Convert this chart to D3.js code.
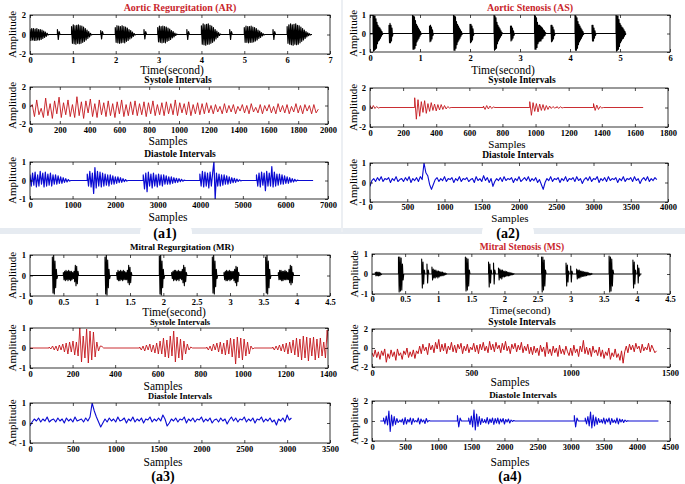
<!DOCTYPE html>
<html>
<head>
<meta charset="utf-8">
<script src="https://cdn.jsdelivr.net/npm/d3@7"></script>
<style>
body{margin:0;background:#fff;}
svg text{font-family:"Liberation Serif","Times New Roman",serif;}
.tk text{font-weight:bold;font-size:8.5px;fill:#000;}
.tk line{stroke:#000;stroke-width:0.7;}
</style>
</head>
<body>
<script>
// ---- (a1) Aortic Regurgitation ----
// heart sound, time in seconds, bursts sampled every 0.02 s
var arStarts = [0.0, 0.64, 0.97, 1.65, 1.99, 2.66, 2.98, 3.66, 4.0, 4.66, 5.0, 5.67, 6.0];
var arBursts = [
  [0.5,-0.6,0.6,-0.55,0.6,-0.6,0.55,-0.6,0.6,-0.55,0.5,-0.55,0.5,-0.5,0.45,-0.4,0.35,-0.3,0.25,-0.2,0.12,-0.05],
  [0.5,-0.5,0.3],
  [0.8,-0.9,1.0,-0.95,0.9,-1.0,0.95,-0.9,1.0,-0.95,0.9,-0.9,0.85,-0.8,0.75,-0.7,0.6,-0.55,0.45,-0.4,0.3,-0.25,0.12,-0.05],
  [0.4,-0.45,0.3],
  [0.7,-0.8,0.9,-0.85,0.85,-0.9,0.8,-0.85,0.9,-0.8,0.8,-0.85,0.75,-0.7,0.65,-0.6,0.5,-0.45,0.4,-0.35,0.25,-0.2,0.1,-0.05],
  [0.5,-0.45,0.3],
  [0.7,-0.75,0.85,-0.8,0.8,-0.85,0.85,-0.8,0.8,-0.85,0.75,-0.7,0.65,-0.6,0.55,-0.5,0.4,-0.35,0.3,-0.25,0.15,-0.1,0.05],
  [0.5,-0.5,0.3],
  [0.9,-1.0,1.1,-1.05,1.0,-1.1,1.05,-1.0,1.1,-1.0,0.95,-0.9,0.85,-0.8,0.7,-0.65,0.5,-0.45,0.35,-0.3,0.2,-0.1,0.05],
  [0.5,-0.5,0.3],
  [0.7,-0.8,0.85,-0.8,0.8,-0.85,0.8,-0.8,0.85,-0.8,0.75,-0.75,0.7,-0.65,0.6,-0.55,0.45,-0.4,0.35,-0.3,0.2,-0.15,0.08,-0.05],
  [0.5,-0.5,0.3],
  [0.8,-0.9,1.0,-1.0,1.1,-1.05,1.0,-1.1,1.05,-1.0,1.1,-1.05,0.95,-1.0,0.9,-0.85,0.75,-0.7,0.6,-0.55,0.45,-0.4,0.3,-0.25,0.18,-0.12,0.08,-0.05]
];
var arBase = [0, 6.58];
// systole intervals, one value every 15 samples
var arSys = [
  -0.2,0.1,-1.2,0.6,-1.0,-0.3,-1.3,0.8,-1.1,0.2,-1.4,0.5,-0.9,0.9,-1.3,0.3,-1.0,0.6,-1.2,0.1,-1.3,0.95,-1.1,0.4,-1.4,0.5,-0.8,0.7,-1.2,0.2,-1.3,0.6,-1.0,0.3,-1.2,0.5,-1.1,0.2,-1.3,0.4,-0.9,0.6,-1.2,0.1,-1.1,0.4,-1.0,
  0.5,-1.1,0.2,-1.0,0.4,-1.2,0.3,-0.9,0.5,-1.1,0.1,-1.0,0.3,-1.1,0.4,-0.9,0.2,-1.0,0.6,-1.1,0.3,-0.8,0.2,-1.0,0.4,-1.1,0.1,-0.9,0.3,-1.0,0.2,-0.9,0.3,
  -0.8,0.0,-0.9,0.1,-0.7,-0.1,-0.9,0.2,-0.8,0.0,-0.7,0.1,-0.9,-0.1,-0.6,0.1,-0.8,0.0,-0.9,0.2,-0.7,-0.2,-0.8,0.1,-0.9,0.0,-0.6,0.1,-0.8,-0.1,-0.9,0.2,-0.7,0.0,-0.8,0.1,-0.9,-0.1,-0.7,0.2,-0.8,0.0,-0.9,0.1,-0.6,0.0,-0.9,0.1,-0.8,-0.4
];
// diastole intervals, bursts sampled every 30 samples
var arDiaStarts = [0, 1345, 2660, 3990, 5320];
var arDiaBursts = [
  [0.3,-0.3,0.4,-0.25,0.45,-0.35,0.3,-0.3,0.5,-0.2,0.4,-0.35,0.45,-0.3,0.35,-0.25,0.4,-0.3,0.3,-0.2,0.3,-0.2,0.25,-0.15,0.2,-0.15,0.15,-0.1,0.1,-0.08,0.05,-0.03],
  [0.35,-0.3,0.5,-0.35,0.4,-0.7,0.7,-0.4,0.5,-0.3,0.45,-0.35,0.4,-0.3,0.35,-0.25,0.3,-0.3,0.3,-0.2,0.25,-0.2,0.2,-0.15,0.2,-0.12,0.15,-0.1,0.1,-0.06,0.05,-0.03],
  [0.3,-0.45,0.4,-0.6,0.45,-0.3,0.35,-0.4,0.4,-0.3,0.3,-0.35,0.35,-0.25,0.3,-0.3,0.3,-0.2,0.25,-0.2,0.2,-0.2,0.2,-0.15,0.15,-0.12,0.12,-0.1,0.1,-0.06,0.06,-0.04,0.02],
  [0.35,-0.3,0.5,-0.35,0.45,-0.3,0.4,-0.4,0.45,-0.3,0.4,1.0,-1.0,0.4,-0.3,0.35,-0.3,0.3,-0.25,0.3,-0.2,0.25,-0.2,0.2,-0.15,0.15,-0.12,0.12,-0.1,0.08,-0.05,0.04,-0.02],
  [0.3,-0.3,0.4,-0.35,0.45,-0.25,0.4,-0.55,0.5,-0.3,0.4,-0.3,0.75,-0.35,0.45,-0.3,0.35,-0.25,0.35,-0.2,0.3,-0.2,0.25,-0.15,0.2,-0.15,0.15,-0.1,0.1,-0.08,0.06,-0.04,0.02]
];
var arDiaBase = [0, 6650];

// ---- (a2) Aortic Stenosis ----
// bursts sampled every 0.01 s
var asStarts = [0.06, 0.38, 0.85, 1.19, 1.67, 2.0, 2.48, 2.81, 3.29, 3.62, 4.10, 4.44, 4.92];
var asBursts = [
  [1.0,-0.95,0.95,-0.9,0.95,-0.85,0.8,-0.8,0.6,-0.55,0.45,-0.4,0.35,-0.35,0.3,-0.25,0.2,-0.15,0.1,-0.05],
  [0.45,-0.5,0.55,-0.5,0.45,-0.4,0.3,-0.15],
  [1.0,-0.85,0.95,-0.85,0.9,-0.8,0.7,-0.65,0.5,-0.45,0.4,-0.35,0.3,-0.25,0.2,-0.15,0.1,-0.05],
  [0.4,-0.45,0.45,-0.4,0.35,-0.3,0.2,-0.1],
  [1.0,-0.9,0.95,-0.9,0.9,-0.8,0.65,-0.6,0.5,-0.45,0.4,-0.35,0.3,-0.25,0.2,-0.15,0.1,-0.05],
  [0.5,-0.5,0.5,-0.45,0.4,-0.35,0.25,-0.1],
  [1.0,-0.9,0.95,-0.85,0.85,-0.8,0.6,-0.55,0.45,-0.4,0.35,-0.3,0.25,-0.2,0.15,-0.1,0.05],
  [0.4,-0.4,0.4,-0.35,0.3,-0.25,0.15,-0.1],
  [1.0,-0.85,0.95,-0.85,0.85,-0.75,0.6,-0.55,0.45,-0.45,0.45,-0.4,0.4,-0.4,0.35,-0.3,0.3,-0.25,0.2,-0.15,0.15,-0.1,0.05],
  [0.45,-0.45,0.45,-0.4,0.35,-0.3,0.2,-0.1],
  [1.0,-0.9,0.95,-0.9,0.85,-0.8,0.65,-0.6,0.5,-0.45,0.4,-0.35,0.3,-0.25,0.2,-0.15,0.1,-0.05],
  [0.45,-0.4,0.45,-0.4,0.3,-0.25,0.15,-0.1],
  [1.0,-0.95,0.95,-0.9,0.95,-0.85,0.75,-0.7,0.55,-0.5,0.45,-0.4,0.35,-0.3,0.3,-0.25,0.2,-0.15,0.1,-0.05]
];
var asBase = [0, 5.12];
// systole intervals, bursts sampled every 10 samples
var asSysStarts = [0, 270, 685, 965, 1130, 1350];
var asSysBursts = [
  [0.2,-0.15,0.2,-0.1,0.1,-0.05],
  [1.0,-1.2,0.8,-0.9,0.6,-0.5,0.7,-0.6,0.4,-0.4,0.5,-0.3,0.35,-0.35,0.3,-0.25,0.3,-0.2,0.2,-0.15,0.1,-0.05],
  [0.15,-0.2,0.2,-0.15,0.15,-0.1,0.05],
  [0.6,-0.8,0.5,-0.4,0.4,-0.45,0.35,-0.3,0.3,-0.3,0.2,-0.2,0.15,-0.1,0.1,-0.05],
  [0.1,-0.1,0.08,-0.05],
  [0.4,-0.3,0.25,-0.2,0.1,-0.05]
];
var asSysBase = [0, 1650];
// diastole intervals, one value every 25 samples
var asDia = [
  -0.2,0.1,0.2,0.05,0.25,0.1,0.3,0.05,0.2,0.15,0.25,0.0,0.2,0.1,0.3,0.05,0.15,0.2,0.05,0.25,0.1,0.3,0.0,0.2,0.1,0.25,0.05,0.3,0.15,
  1.0,0.5,0.35,-0.1,-0.35,
  -0.1,0.15,0.25,0.05,0.2,0.1,0.3,0.05,0.2,0.15,0.25,0.0,0.2,0.1,0.3,0.05,0.2,0.15,0.25,0.05,0.15,0.2,0.0,0.3,0.1,0.2,0.05,0.35,0.1,0.25,0.0,0.2,
  -0.2,0.05,
  0.2,0.1,0.25,0.05,0.3,0.1,0.2,0.15,0.25,0.0,0.2,0.1,0.3,0.05,0.15,0.25,0.1,0.3,0.05,0.2,0.1,0.25,0.0,0.15,-0.1,
  -0.35,0.0,0.2,
  0.1,0.3,0.05,0.2,0.15,0.25,0.0,0.2,0.1,0.3,0.05,0.2,0.15,0.25,0.05,0.3,0.1,0.2,-0.05,0.15,0.25,0.1,0.3,0.05,0.2,0.15,0.3,0.0,0.2,0.1,0.25,0.05,0.3,0.1,0.2,0.15,0.25,0.0,0.2,0.1,0.3,0.05,0.2,0.15,0.25,0.05,0.3,0.1,0.2,-0.05,0.15,0.25,0.1,0.3,0.05,0.2,0.1,0.25,0.15
];

// ---- (a3) Mitral Regurgitation ----
// bursts sampled every 0.01 s
var mrStarts = [0.335, 0.5, 1.125, 1.3, 1.94, 2.125, 2.735, 2.91, 3.535, 3.725];
var mrBursts = [
  [0.9,-0.85,1.0,-0.9,0.7,-0.6,0.3,-0.15],
  [0.15,-0.2,0.2,-0.25,0.25,-0.2,0.2,-0.25,0.25,-0.2,0.2,-0.25,0.2,-0.2,0.15,-0.15,0.2,-0.3,0.5,-0.5,0.45,-0.4,0.2],
  [0.9,-0.9,1.0,-0.95,0.75,-0.6,0.3,-0.15],
  [0.15,-0.2,0.25,-0.25,0.2,-0.25,0.25,-0.2,0.2,-0.25,0.25,-0.2,0.2,-0.2,0.15,-0.2,0.25,-0.35,0.5,-0.45,0.4,-0.35,0.15],
  [0.95,-0.9,1.0,-0.95,0.7,-0.6,0.3,-0.15],
  [0.15,-0.15,0.2,-0.25,0.25,-0.2,0.25,-0.25,0.2,-0.2,0.25,-0.25,0.2,-0.15,0.2,-0.2,0.3,-0.35,0.5,-0.5,0.4,-0.3,0.15],
  [0.9,-0.85,1.0,-0.9,0.7,-0.55,0.3,-0.15],
  [0.15,-0.2,0.2,-0.25,0.25,-0.25,0.2,-0.2,0.25,-0.25,0.2,-0.2,0.2,-0.15,0.2,-0.25,0.3,-0.35,0.45,-0.5,0.4,-0.3,0.15],
  [0.9,-0.85,1.0,-0.9,0.7,-0.6,0.3,-0.15],
  [0.15,-0.2,0.25,-0.2,0.25,-0.25,0.2,-0.25,0.2,-0.2,0.25,-0.2,0.2,-0.2,0.15,-0.2,0.3,-0.35,0.5,-0.45,0.45,-0.35,0.15]
];
var mrBase = [0, 4.05];
// systole intervals, bursts sampled every 8 samples
var mrSysStarts = [90, 515, 830, 1140];
var mrSysBursts = [
  [0.05,-0.05,0.1,-0.1,0.1,-0.15,0.15,-0.1,0.2,-0.2,0.25,-0.3,0.3,-0.2,0.35,-0.35,0.3,-0.4,1.0,-0.7,0.6,-0.5,0.95,-0.75,0.85,-0.6,0.8,-0.45,0.3,-0.15,0.1,0.08],
  [0.05,-0.1,0.1,-0.15,0.15,-0.1,0.2,-0.2,0.15,-0.25,0.25,-0.3,0.35,-0.3,0.5,-0.45,0.4,-0.5,0.6,-0.4,0.85,-0.7,0.55,-0.5,0.45,-0.6,0.35,-0.3,0.2,-0.1,0.05],
  [0.05,-0.1,0.1,-0.15,0.2,-0.1,0.25,-0.2,0.3,-0.3,0.25,-0.35,0.4,-0.3,0.5,-0.45,0.45,-0.8,0.55,-0.5,0.5,-0.6,0.45,-0.4,0.3,-0.3,0.1,-0.05],
  [0.05,-0.1,0.1,-0.1,0.15,-0.15,0.2,-0.2,0.25,-0.3,0.3,-0.25,0.4,-0.35,0.5,-0.45,0.45,-0.6,0.6,-0.5,0.55,-0.65,0.5,-0.4,0.55,-0.6,0.45,-0.5,0.5,-0.4,0.3,-0.5,0.9]
];
var mrSysBase = [0, 1396];
// diastole intervals, one value every 25 samples
var mrDia = [
  -0.15,0.05,0.2,0.1,0.25,0.05,0.2,0.1,0.3,0.05,0.15,0.2,0.05,0.25,0.1,0.2,0.0,0.25,0.1,0.2,0.05,0.3,0.1,0.15,0.2,0.05,0.25,0.1,0.3,
  1.0,0.6,0.3,0.05,-0.2,
  0.0,0.2,0.05,0.25,0.1,0.2,0.05,0.3,0.1,0.15,0.25,0.0,0.2,0.1,0.3,0.05,0.2,0.1,0.25,0.0,0.2,0.15,0.3,0.05,0.2,0.1,0.25,0.1,
  0.4,0.2,-0.15,0.0,
  0.2,0.1,0.25,0.05,0.2,0.15,0.3,0.0,0.2,0.1,0.25,0.05,0.2,0.15,0.3,0.05,0.2,0.1,0.25,0.0,0.15,0.2,0.05,0.25,0.1,0.2,-0.05,0.15,0.3,0.1,0.25,0.05,0.2,0.15,0.3,0.05,0.2,0.1,0.25,0.0,0.2,0.15,0.3,0.05,0.2,0.1,0.25,0.05,0.15,-0.1,0.2,0.1,0.25,0.05,0.4,0.15,0.25
];

// ---- (a4) Mitral Stenosis ----
// bursts sampled every 0.01 s
var msStarts = [0.05, 0.40, 0.75, 0.83, 0.905, 1.41, 1.76, 1.835, 1.91, 2.56, 2.93, 3.0, 3.09, 3.58, 3.94, 4.01];
var msBursts = [
  [0.08,-0.1,0.1,-0.08,0.1,-0.1,0.08,-0.08,0.05,-0.03],
  [0.85,-0.9,0.85,-0.85,0.8,-0.8,0.5,-0.3],
  [0.75,-0.7,0.6,-0.5,0.2],
  [0.5,-0.45,0.2],
  [0.35,-0.3,0.25,-0.2,0.2,-0.2,0.2,-0.15,0.15,-0.2,0.15,-0.15,0.12,-0.1,0.1,-0.1,0.1,-0.08,0.06,-0.05,0.05,-0.03,0.02],
  [0.85,-0.85,0.8,-0.8,0.75,-0.6,0.2],
  [0.6,-0.65,0.5,-0.45,0.2],
  [0.55,-0.5,0.2],
  [0.3,-0.3,0.25,-0.2,0.2,-0.25,0.2,-0.15,0.15,-0.15,0.15,-0.12,0.12,-0.1,0.1,-0.1,0.08,-0.08,0.06,-0.05,0.05,-0.04,0.03,-0.02,0.01],
  [0.85,-0.9,0.85,-0.8,0.7,-0.6,0.2],
  [0.55,-0.6,0.45,-0.4,0.15],
  [0.4,-0.4,0.15],
  [0.25,-0.25,0.2,-0.2,0.2,-0.2,0.15,-0.15,0.15,-0.12,0.12,-0.12,0.1,-0.1,0.1,-0.08,0.08,-0.06,0.06,-0.05,0.04,-0.04,0.03,-0.02,0.01],
  [0.9,-0.9,0.85,-0.85,0.75,-0.6,0.2],
  [0.7,-0.7,0.6,-0.5,0.2],
  [0.45,-0.45,0.3,-0.1]
];
var msBase = [0, 4.07];
// systole intervals, one value every 8 samples
var msSys = [
  -0.5,-0.9,-0.2,-1.0,-0.4,-1.2,-0.3,-0.8,-0.1,-1.5,-0.6,-1.1,-0.2,-0.9,-0.4,-1.3,-0.1,-0.8,-0.5,-1.2,-0.3,-0.7,0.0,-1.0,-0.4,-0.9,-0.2,-1.1,-0.3,-0.6,
  0.2,-0.6,0.4,-0.3,0.1,-0.7,0.5,-0.2,0.3,-0.5,0.6,-0.1,0.9,-0.4,0.4,-0.3,0.5,-0.6,0.2,-0.2,0.6,-0.4,0.3,-0.5,0.4,-0.1,0.5,-0.6,0.2,-0.3,0.4,-0.5,0.1,-0.2,0.5,-0.4,0.3,-0.6,0.4,-0.2,0.6,-0.3,0.2,-0.5,0.7,
  -0.2,0.4,-0.4,0.6,-0.1,0.3,-0.5,0.5,-0.2,0.7,-0.3,0.2,-0.6,0.4,-0.1,0.5,-0.4,0.3,-0.2,0.6,-0.5,0.2,-0.3,0.4,-0.6,
  0.1,-0.7,0.2,-0.5,0.0,-0.8,0.3,-0.4,0.1,-0.9,0.6,-0.6,-0.1,-0.8,0.2,-0.5,0.0,-0.9,0.3,-0.6,-0.1,-0.7,0.2,-0.4,-0.8,
  0.0,-0.8,0.3,-0.5,-0.1,-0.9,0.2,-0.4,0.8,-0.6,0.1,-0.7,0.0,-0.9,0.2,-0.5,-0.2,-0.8,0.1,
  -0.9,-0.2,-1.1,-0.4,-0.8,0.0,-1.2,-0.5,-0.9,-0.1,-1.0,-0.6,-1.3,-0.3,-1.6,-0.4,
  0.2,-0.5,0.4,-0.2,0.3,-0.4,0.5,-0.1,0.2,-0.5,0.4,-0.3,0.1,-0.2,0.5,-0.4,0.3,-0.1,-0.5,-0.3
];
// diastole intervals, bursts sampled every 20 samples
var msDiaStarts = [175, 420, 1290, 1460, 1700, 3055, 3220, 3460];
var msDiaBursts = [
  [0.3,-0.3,0.5,-0.4,1.0,-1.05,0.6,-0.5,0.45,-0.35,0.25,-0.15],
  [0.1,-0.1,0.2,-0.35,0.35,-0.3,0.15,-0.1,0.3,-0.35,0.25,-0.1,0.05,-0.1,0.3,-0.3,0.2,-0.1,0.1,-0.25,0.25,-0.1,0.05],
  [0.55,-0.6,0.3],
  [0.3,-0.35,0.5,-0.6,1.1,-0.9,0.7,-0.55,0.45,-0.35,0.25,-0.15],
  [0.15,-0.2,0.35,-0.3,0.2,-0.15,0.3,-0.35,0.25,-0.2,0.3,-0.3,0.2,-0.1,0.25,-0.3,0.15,-0.1,0.2,-0.2,0.1,-0.05,0.05],
  [0.55,-0.6,0.3],
  [0.3,-0.3,0.45,-0.5,0.9,-0.7,0.6,-0.5,0.4,-0.35,0.25,-0.15],
  [0.15,-0.2,0.3,-0.3,0.2,-0.1,0.3,-0.35,0.25,-0.15,0.1,-0.2,0.3,-0.3,0.2,-0.1,0.15,-0.15,0.1,-0.05,0.03]
];
var msDiaBase = [125, 4325];

var RED = "#c4161c", BLUE = "#0a0ad2", TITLE_RED = "#c9252b";

// bursts sitting on a flat zero line
function burstTrace(base, starts, bursts, step) {
  var pts = [[base[0], 0]];
  starts.forEach(function (s, i) {
    pts.push([s, 0]);
    bursts[i].forEach(function (v, j) { pts.push([s + j * step, v]); });
    pts.push([s + bursts[i].length * step, 0]);
  });
  pts.push([base[1], 0]);
  return pts;
}
// evenly sampled record
function evenTrace(vals, step) {
  return vals.map(function (v, i) { return [i * step, v]; });
}

var svg = d3.select("body").append("svg").attr("width", 685).attr("height", 484);

// light separators between the four figures
svg.append("rect").attr("x", 0).attr("y", 228).attr("width", 685).attr("height", 6).attr("fill", "#e6ebf1");
svg.append("line").attr("x1", 342).attr("x2", 342).attr("y1", 0).attr("y2", 232).attr("stroke", "#eceff3").attr("stroke-width", 2);
svg.append("rect").attr("x", 140).attr("y", 224).attr("width", 52).attr("height", 18).attr("rx", 8).attr("fill", "#fff");
svg.append("rect").attr("x", 482).attr("y", 224).attr("width", 52).attr("height", 18).attr("rx", 8).attr("fill", "#fff");

var fmt = function (d) { return String(d); };
var clipN = 0;

function plot(o) {
  var xs = d3.scaleLinear().domain(o.xd).range([o.x, o.x + o.w]);
  var ys = d3.scaleLinear().domain(o.yd).range([o.y + o.h, o.y]);
  var id = "clip" + (clipN++);
  svg.append("clipPath").attr("id", id).append("rect")
    .attr("x", o.x).attr("y", o.y).attr("width", o.w).attr("height", o.h);

  var line = d3.line().x(function (d) { return xs(d[0]); }).y(function (d) { return ys(d[1]); });
  svg.append("path").datum(o.pts)
    .attr("clip-path", "url(#" + id + ")")
    .attr("d", line)
    .attr("fill", "none")
    .attr("stroke", o.color)
    .attr("stroke-width", o.sw || 0.8)
    .attr("stroke-linejoin", "round");

  var gb = svg.append("g").attr("class", "tk").attr("transform", "translate(0," + (o.y + o.h) + ")")
    .call(d3.axisBottom(xs).tickValues(o.xt).tickSizeInner(-3).tickSizeOuter(0).tickPadding(o.pad || 3).tickFormat(fmt));
  var gt = svg.append("g").attr("class", "tk").attr("transform", "translate(0," + o.y + ")")
    .call(d3.axisTop(xs).tickValues(o.xt).tickSizeInner(-3).tickSizeOuter(0).tickFormat(""));
  var gl = svg.append("g").attr("class", "tk").attr("transform", "translate(" + o.x + ",0)")
    .call(d3.axisLeft(ys).tickValues(o.yt).tickSizeInner(-3).tickSizeOuter(0).tickPadding(4).tickFormat(fmt));
  var gr = svg.append("g").attr("class", "tk").attr("transform", "translate(" + (o.x + o.w) + ",0)")
    .call(d3.axisRight(ys).tickValues(o.yt).tickSizeInner(-3).tickSizeOuter(0).tickFormat(""));
  [gb, gt, gl, gr].forEach(function (g) { g.select(".domain").remove(); });

  svg.append("rect").attr("x", o.x).attr("y", o.y).attr("width", o.w).attr("height", o.h)
    .attr("fill", "none").attr("stroke", "#000").attr("stroke-width", 0.8);

  svg.append("text")
    .attr("transform", "translate(" + o.ax + "," + (o.y + o.h / 2) + ") rotate(-90)")
    .attr("text-anchor", "middle").attr("dy", "0.35em")
    .attr("font-size", 11).text("Amplitude");
}

function label(t, x, y, size, bold, color) {
  svg.append("text").attr("x", x).attr("y", y).attr("text-anchor", "middle")
    .attr("font-size", size).attr("font-weight", bold ? "bold" : "normal")
    .attr("fill", color || "#000").text(t);
}

// ---------- (a1) ----------
plot({x: 30, y: 15, w: 300, h: 39, xd: [0, 7], yd: [-2, 2], xt: d3.range(0, 8), yt: [-2, 0, 2],
  pts: burstTrace(arBase, arStarts, arBursts, 0.02), color: "#000", sw: 1.2, ax: 12});
plot({x: 30, y: 87, w: 298, h: 37, xd: [0, 2000], yd: [-2, 2], xt: d3.range(0, 2001, 200), yt: [-2, 0, 2],
  pts: evenTrace(arSys, 15), color: RED, sw: 0.9, ax: 12});
plot({x: 30, y: 162, w: 298, h: 37, xd: [0, 7000], yd: [-1, 1], xt: d3.range(0, 7001, 1000), yt: [-1, 0, 1],
  pts: burstTrace(arDiaBase, arDiaStarts, arDiaBursts, 30), color: BLUE, sw: 1.2, ax: 12});
label("Aortic Regurgitation (AR)", 180, 11, 10, true, TITLE_RED);
label("Time(second)", 172, 74, 11.5);
label("Systole Intervals", 178, 83, 9.5, true);
label("Samples", 168, 145, 11.5);
label("Diastole Intervals", 180, 157, 9.5, true);
label("Samples", 168, 221, 11.5);
label("(a1)", 165, 238, 14, true);

// ---------- (a2) ----------
plot({x: 370, y: 15, w: 300, h: 37, xd: [0, 6], yd: [-1, 1], xt: d3.range(0, 7), yt: [-1, 0, 1],
  pts: burstTrace(asBase, asStarts, asBursts, 0.01), color: "#000", sw: 1.1, ax: 353});
plot({x: 370, y: 88, w: 298, h: 39, xd: [0, 1800], yd: [-2, 2], xt: d3.range(0, 1801, 200), yt: [-2, 0, 2],
  pts: burstTrace(asSysBase, asSysStarts, asSysBursts, 10), color: RED, sw: 0.9, ax: 353});
plot({x: 370, y: 163, w: 298, h: 39, xd: [0, 4000], yd: [-1, 1], xt: d3.range(0, 4001, 500), yt: [-1, 0, 1],
  pts: evenTrace(asDia, 25), color: BLUE, sw: 1.1, ax: 353, pad: 2});
label("Aortic Stenosis (AS)", 530, 11, 10, true, TITLE_RED);
label("Time(second)", 503, 74, 11.5);
label("Systole Intervals", 522, 83, 9.5, true);
label("Samples", 507, 147.5, 11);
label("Diastole Intervals", 518, 158, 9.5, true);
label("Samples", 510, 222, 11);
label("(a2)", 508, 238, 14, true);

// ---------- (a3) ----------
plot({x: 30, y: 255, w: 300, h: 41, xd: [0, 4.5], yd: [-1, 1], xt: d3.range(0, 4.51, 0.5), yt: [-1, 0, 1],
  pts: burstTrace(mrBase, mrStarts, mrBursts, 0.01), color: "#000", sw: 1.1, ax: 12});
plot({x: 30, y: 328, w: 298, h: 40, xd: [0, 1400], yd: [-1, 1], xt: d3.range(0, 1401, 200), yt: [-1, 0, 1],
  pts: burstTrace(mrSysBase, mrSysStarts, mrSysBursts, 8), color: RED, sw: 0.9, ax: 12});
plot({x: 30, y: 403, w: 300, h: 40, xd: [0, 3500], yd: [-1, 1], xt: d3.range(0, 3501, 500), yt: [-1, 0, 1],
  pts: evenTrace(mrDia, 25), color: BLUE, sw: 1.1, ax: 12});
label("Mitral Regurgitation (MR)", 182, 250, 9, true);
label("Time(second)", 174, 316, 11.5);
label("Systole Intervals", 180, 324.5, 8.5, true);
label("Samples", 163, 390, 11.5);
label("Diastole Intervals", 180, 398.5, 8.5, true);
label("Samples", 163, 466, 11.5);
label("(a3)", 163, 481, 14, true);

// ---------- (a4) ----------
plot({x: 372, y: 254, w: 298, h: 40, xd: [0, 4.5], yd: [-1, 1], xt: d3.range(0, 4.51, 0.5), yt: [-1, 0, 1],
  pts: burstTrace(msBase, msStarts, msBursts, 0.01), color: "#000", sw: 1.1, ax: 354, pad: 2});
plot({x: 372, y: 329, w: 298, h: 38, xd: [0, 1500], yd: [-2, 2], xt: [0, 500, 1000, 1500], yt: [-2, 0, 2],
  pts: evenTrace(msSys, 8), color: RED, sw: 1.0, ax: 354});
plot({x: 372, y: 401, w: 298, h: 40, xd: [0, 4500], yd: [-2, 2], xt: d3.range(0, 4501, 500), yt: [-2, 0, 2],
  pts: burstTrace(msDiaBase, msDiaStarts, msDiaBursts, 20), color: BLUE, sw: 1.1, ax: 354});
label("Mitral Stenosis (MS)", 522, 250, 9.5, true, TITLE_RED);
label("Time(second)", 520, 314, 11);
label("Systole Intervals", 522, 325, 9.5, true);
label("Samples", 510, 386, 11.5);
label("Diastole Intervals", 523, 397.5, 9, true);
label("Samples", 510, 466, 11.5);
label("(a4)", 510, 481, 14, true);
</script>
</body>
</html>
